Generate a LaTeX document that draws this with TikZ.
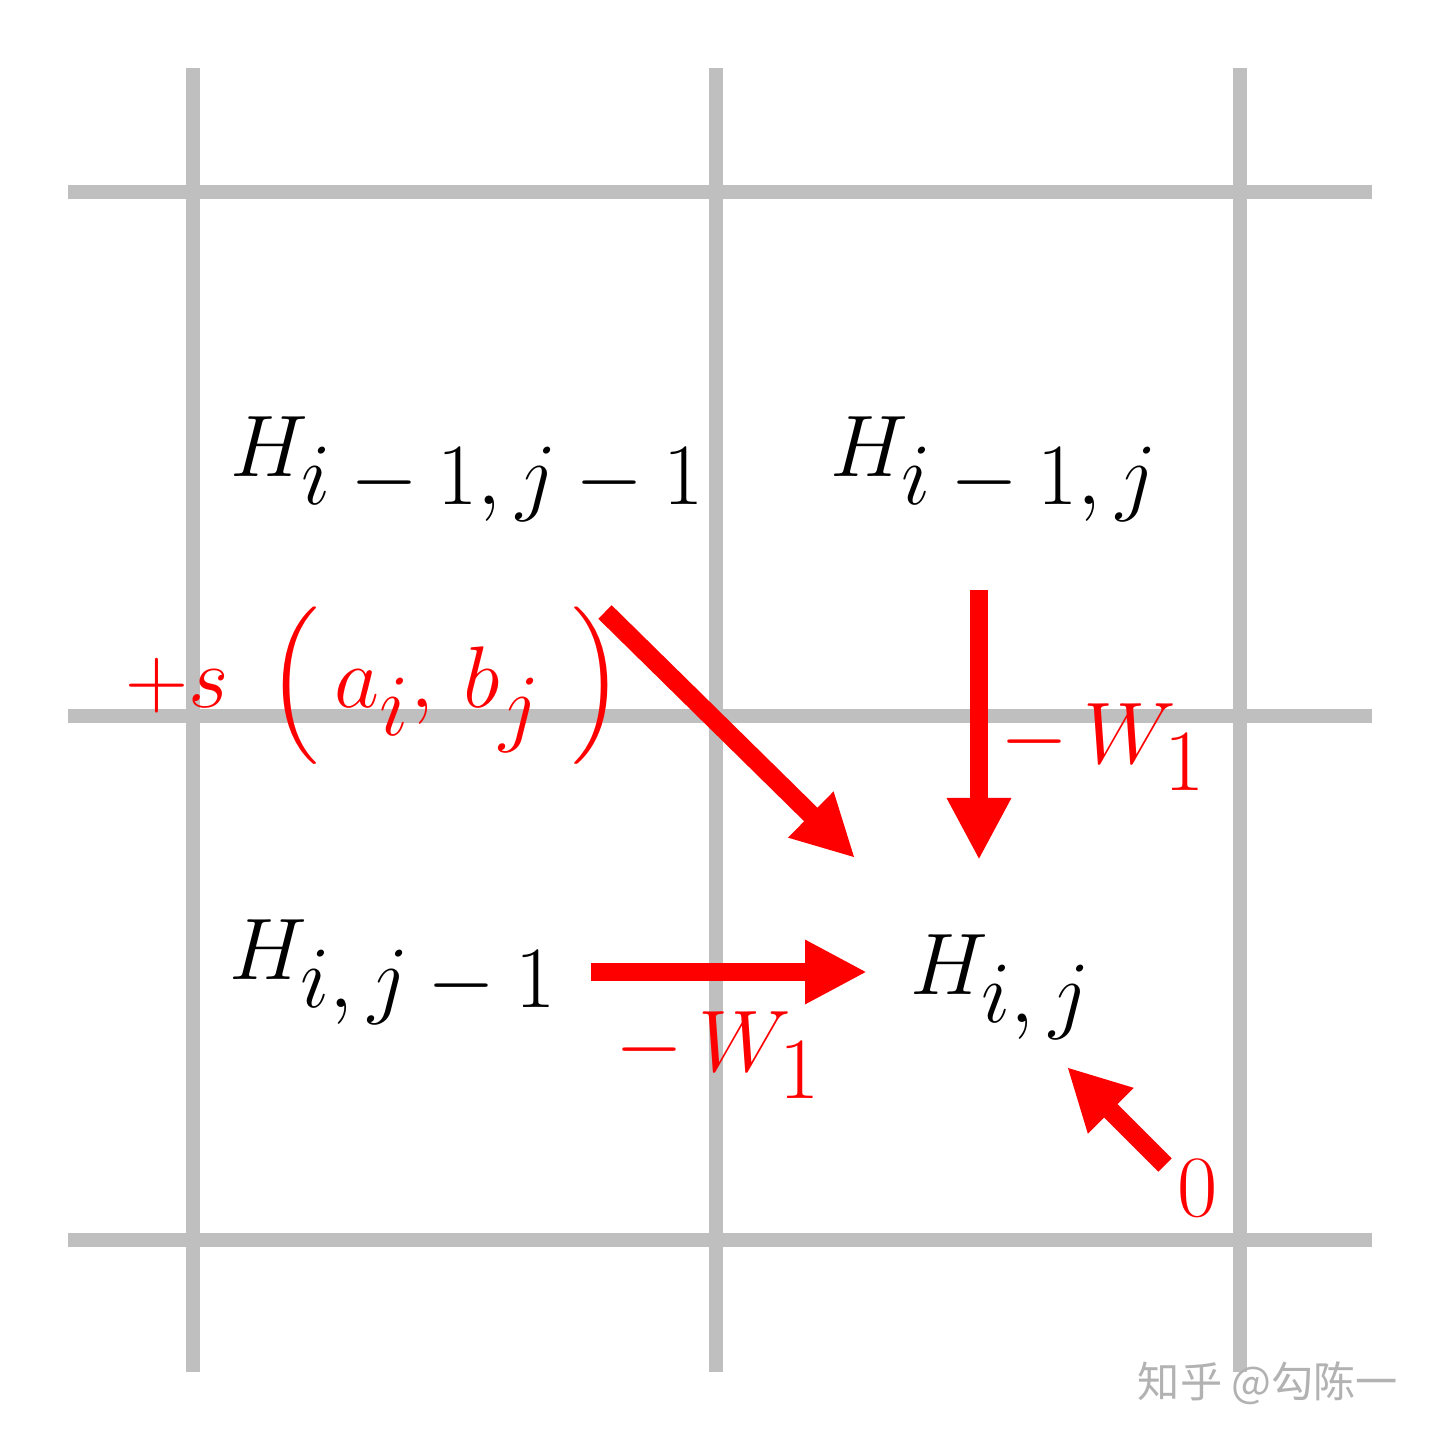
\documentclass[tikz,border=0pt]{standalone}
\usepackage{amsmath}
\usepackage{exscale}
\usepackage{fontspec}
\newfontfamily\cjk{Noto Sans CJK SC}
\usetikzlibrary{arrows.meta}

\begin{document}
\begin{tikzpicture}[gridline/.style={draw=black!25,line width=4pt},
  hnode/.style={anchor=base west,inner sep=0pt,font=\fontsize{25}{30}\selectfont},
  rednode/.style={hnode,text=red},
  redarrow/.style={draw=red,line width=5.4pt,-{Triangle[length=0.62cm,width=0.6cm]}},
  marksty/.style={anchor=center,text=black!30,font=\cjk\fontsize{12}{14}\selectfont}]

  \fill[white] (0,0) rectangle (14.4,14.4);
  \useasboundingbox (0,0) rectangle (14.4,14.4);

  \foreach \x in {1.93,7.16,12.40}
    \draw[gridline] (\x,0.68) -- (\x,13.72);
  \foreach \y in {2.00,7.24,12.48}
    \draw[gridline] (0.68,\y) -- (13.72,\y);

  \node[hnode] (hul) at (2.30,9.63) {$H_{\displaystyle i-1,j-1}$};
  \node[hnode] (hur) at (8.30,9.63) {$H_{\displaystyle i-1,j}$};
  \node[hnode] (hll) at (2.29,4.60) {$H_{\displaystyle i,j-1}$};
  \node[hnode] (hij) at (9.10,4.45) {$H_{\displaystyle i,j}$};

  \node[rednode] (score) at (1.25,7.32) {$+s\;\,\Big(\,a_{\displaystyle i},\,b_{\displaystyle j}\,\,\Big)$};
  \node[rednode] (wtop) at (10.00,6.76) {$-\,W_{\displaystyle 1}$};
  \node[rednode] (wbot) at (6.15,3.68) {$-\,W_{\displaystyle 1}$};
  \node[rednode] (zero) at (11.77,2.23) {$0$};

  \coordinate (diagfrom) at (6.05,8.28);
  \coordinate (diagto) at (8.55,5.82);
  \coordinate (downfrom) at (9.79,8.50);
  \coordinate (downto) at (9.79,5.80);
  \coordinate (rightfrom) at (5.91,4.68);
  \coordinate (rightto) at (8.67,4.68);
  \coordinate (zerofrom) at (11.65,2.75);
  \coordinate (zeroto) at (10.67,3.73);

  \draw[redarrow] (diagfrom) -- (diagto);
  \draw[redarrow] (downfrom) -- (downto);
  \draw[redarrow] (rightfrom) -- (rightto);
  \draw[redarrow] (zerofrom) -- (zeroto);

  \node[marksty] (mark) at (12.68,0.57) {知乎 @勾陈一};

\end{tikzpicture}
\end{document}
